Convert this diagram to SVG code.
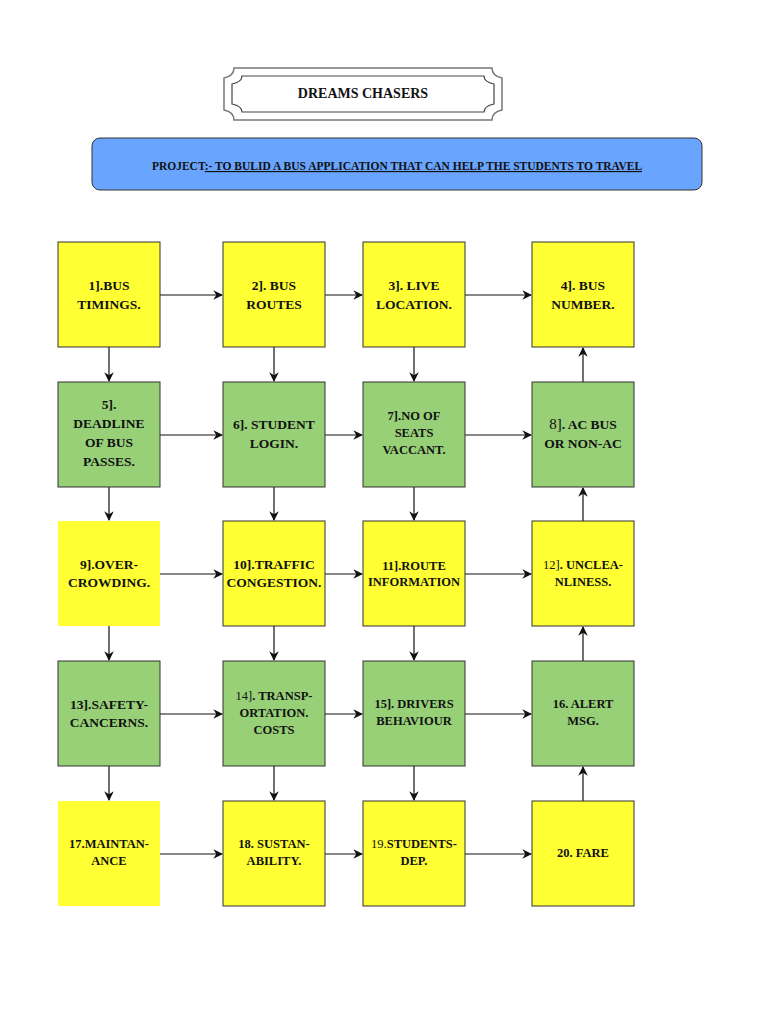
<svg xmlns="http://www.w3.org/2000/svg" width="768" height="1024" viewBox="0 0 768 1024">
<style>
.y{fill:#ffff33;stroke:#333;stroke-width:1}
.yn{fill:#ffff33}
.g{fill:#97d077;stroke:#333;stroke-width:1}
.t{font-family:"Liberation Serif",serif;font-weight:bold;font-size:13.5px;text-anchor:middle;fill:#111}
.c line{stroke:#111;stroke-width:1.2;marker-end:url(#a)}
</style>
<defs><marker id="a" viewBox="0 0 10 10" refX="9" refY="5" markerWidth="8" markerHeight="8" orient="auto"><path d="M0,0L10,5L0,10L3,5Z" fill="#111"/></marker></defs>
<rect width="768" height="1024" fill="#fff"/>
<g id="title">
<path d="M234,68H492Q492,76 502,78V110Q492,112 492,120H234Q234,112 224,110V78Q234,76 234,68Z" fill="#fff" stroke="#777" stroke-width="1.5"/>
<path d="M242,76H484Q484,82 494,84V104Q484,106 484,112H242Q242,106 232,104V84Q242,82 242,76Z" fill="#fff" stroke="#444" stroke-width="1.2"/>
<text x="363" y="98" class="t" style="font-size:14px">DREAMS CHASERS</text>
</g>
<g id="project">
<rect x="92" y="138" width="610" height="52" rx="8" fill="#69a5ff" stroke="#333"/>
<text x="397" y="170" class="t" style="font-size:11.5px">PROJECT<tspan text-decoration="underline">:-  TO BULID A BUS APPLICATION THAT CAN HELP THE STUDENTS TO TRAVEL</tspan></text>
</g>
<g class="c" id="connectors">
<line x1="160" y1="295" x2="222" y2="295"/><line x1="325" y1="295" x2="362" y2="295"/><line x1="465" y1="295" x2="531" y2="295"/>
<line x1="160" y1="435" x2="222" y2="435"/><line x1="325" y1="435" x2="362" y2="435"/><line x1="465" y1="435" x2="531" y2="435"/>
<line x1="160" y1="574" x2="222" y2="574"/><line x1="325" y1="574" x2="362" y2="574"/><line x1="465" y1="574" x2="531" y2="574"/>
<line x1="160" y1="714" x2="222" y2="714"/><line x1="325" y1="714" x2="362" y2="714"/><line x1="465" y1="714" x2="531" y2="714"/>
<line x1="160" y1="854" x2="222" y2="854"/><line x1="325" y1="854" x2="362" y2="854"/><line x1="465" y1="854" x2="531" y2="854"/>
<line x1="109" y1="347" x2="109" y2="381"/><line x1="109" y1="487" x2="109" y2="520"/><line x1="109" y1="626" x2="109" y2="660"/><line x1="109" y1="766" x2="109" y2="800"/>
<line x1="274" y1="347" x2="274" y2="381"/><line x1="274" y1="487" x2="274" y2="520"/><line x1="274" y1="626" x2="274" y2="660"/><line x1="274" y1="766" x2="274" y2="800"/>
<line x1="414" y1="347" x2="414" y2="381"/><line x1="414" y1="487" x2="414" y2="520"/><line x1="414" y1="626" x2="414" y2="660"/><line x1="414" y1="766" x2="414" y2="800"/>
<line x1="583" y1="801" x2="583" y2="767"/><line x1="583" y1="661" x2="583" y2="627"/><line x1="583" y1="521" x2="583" y2="488"/><line x1="583" y1="382" x2="583" y2="348"/>
</g>
<g id="n1"><rect class="y" x="58" y="242" width="102" height="105"/><text class="t" x="109" y="290">1].BUS</text><text class="t" x="109" y="309">TIMINGS.</text></g>
<g id="n2"><rect class="y" x="223" y="242" width="102" height="105"/><text class="t" x="274" y="290">2]. BUS</text><text class="t" x="274" y="309">ROUTES</text></g>
<g id="n3"><rect class="y" x="363" y="242" width="102" height="105"/><text class="t" x="414" y="290">3]. LIVE</text><text class="t" x="414" y="309">LOCATION.</text></g>
<g id="n4"><rect class="y" x="532" y="242" width="102" height="105"/><text class="t" x="583" y="290">4]. BUS</text><text class="t" x="583" y="309">NUMBER.</text></g>
<g id="n5"><rect class="g" x="58" y="382" width="102" height="105"/><text class="t" x="109" y="409">5].</text><text class="t" x="109" y="428">DEADLINE</text><text class="t" x="109" y="447">OF BUS</text><text class="t" x="109" y="466">PASSES.</text></g>
<g id="n6"><rect class="g" x="223" y="382" width="102" height="105"/><text class="t" x="274" y="429">6]. STUDENT</text><text class="t" x="274" y="448">LOGIN.</text></g>
<g id="n7"><rect class="g" x="363" y="382" width="102" height="105"/><text class="t" x="414" y="420" style="font-size:12.5px">7].NO OF</text><text class="t" x="414" y="437" style="font-size:12.5px">SEATS</text><text class="t" x="414" y="454" style="font-size:12.5px">VACCANT.</text></g>
<g id="n8"><rect class="g" x="532" y="382" width="102" height="105"/><text class="t" x="583" y="429"><tspan style="font-weight:normal;font-size:15px">8]</tspan>. AC BUS</text><text class="t" x="583" y="448">OR NON-AC</text></g>
<g id="n9"><rect class="yn" x="58" y="521" width="102" height="105"/><text class="t" x="109" y="569">9].OVER-</text><text class="t" x="109" y="587">CROWDING.</text></g>
<g id="n10"><rect class="y" x="223" y="521" width="102" height="105"/><text class="t" x="274" y="569">10].TRAFFIC</text><text class="t" x="274" y="587">CONGESTION.</text></g>
<g id="n11"><rect class="y" x="363" y="521" width="102" height="105"/><text class="t" x="414" y="570" style="font-size:12.5px">11].ROUTE</text><text class="t" x="414" y="586" style="font-size:12.5px">INFORMATION</text></g>
<g id="n12"><rect class="y" x="532" y="521" width="102" height="105"/><text class="t" x="583" y="569" style="font-size:12.5px"><tspan style="font-weight:normal">12]</tspan>. UNCLEA-</text><text class="t" x="583" y="586" style="font-size:12.5px">NLINESS.</text></g>
<g id="n13"><rect class="g" x="58" y="661" width="102" height="105"/><text class="t" x="109" y="709">13].SAFETY-</text><text class="t" x="109" y="727">CANCERNS.</text></g>
<g id="n14"><rect class="g" x="223" y="661" width="102" height="105"/><text class="t" x="274" y="700" style="font-size:12.5px"><tspan style="font-weight:normal">14]</tspan>. TRANSP-</text><text class="t" x="274" y="717" style="font-size:12.5px">ORTATION.</text><text class="t" x="274" y="734" style="font-size:12.5px">COSTS</text></g>
<g id="n15"><rect class="g" x="363" y="661" width="102" height="105"/><text class="t" x="414" y="708" style="font-size:12.5px">15].  DRIVERS</text><text class="t" x="414" y="725" style="font-size:12.5px">BEHAVIOUR</text></g>
<g id="n16"><rect class="g" x="532" y="661" width="102" height="105"/><text class="t" x="583" y="708" style="font-size:12.5px">16. ALERT</text><text class="t" x="583" y="725" style="font-size:12.5px">MSG.</text></g>
<g id="n17"><rect class="yn" x="58" y="801" width="102" height="105"/><text class="t" x="109" y="848" style="font-size:12.5px">17.MAINTAN-</text><text class="t" x="109" y="865" style="font-size:12.5px">ANCE</text></g>
<g id="n18"><rect class="y" x="223" y="801" width="102" height="105"/><text class="t" x="274" y="848" style="font-size:12.5px">18. SUSTAN-</text><text class="t" x="274" y="865" style="font-size:12.5px">ABILITY.</text></g>
<g id="n19"><rect class="y" x="363" y="801" width="102" height="105"/><text class="t" x="414" y="848" style="font-size:12.5px"><tspan style="font-weight:normal">19.</tspan>STUDENTS-</text><text class="t" x="414" y="865" style="font-size:12.5px">DEP.</text></g>
<g id="n20"><rect class="y" x="532" y="801" width="102" height="105"/><text class="t" x="583" y="857" style="font-size:12.5px">20. FARE</text></g>
</svg>
